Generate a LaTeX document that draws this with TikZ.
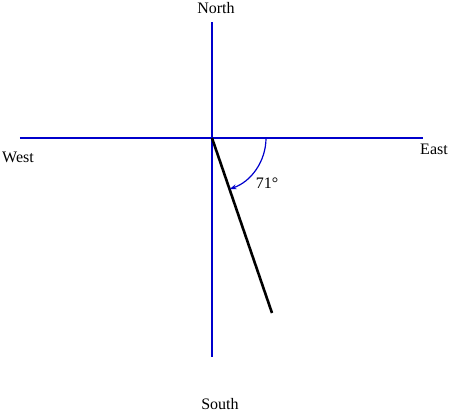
\documentclass[tikz,border=0pt]{standalone}
\usepackage{fontspec}
\setmainfont{Liberation Serif}
\usepackage{tikz}
\usetikzlibrary{arrows.meta}

\begin{document}
\begin{tikzpicture}[x=1pt, y=1pt, axis/.style = {draw=blue!80!black, line width=1.2pt},
    label/.style = {font=\fontsize{16}{18}\selectfont, inner sep=0pt}]
  \useasboundingbox (-212,-275) rectangle (238,138);
  \coordinate (O) at (0,0);
  \coordinate (n) at (0,116);
  \coordinate (s) at (0,-219);
  \coordinate (w) at (-192,0);
  \coordinate (e) at (211,0);
  \coordinate (tip) at (60,-175);

  \node[label] (north) at (4,130) {North};
  \node[label] (west) at (-194,-19) {West};
  \node[label] (east) at (222,-11) {East};
  \node[label] (south) at (8,-266) {South};
  \node[label] (angle) at (55,-45) {71°};

  \draw[axis] (n) -- (s);
  \draw[axis] (w) -- (e);
  \draw[line width=2.6pt] (O) -- (tip);
  \draw[axis, -{Stealth[length=7pt,width=5pt]}] (O) ++(54,0) arc (0:-71:54);
\end{tikzpicture}
\end{document}
